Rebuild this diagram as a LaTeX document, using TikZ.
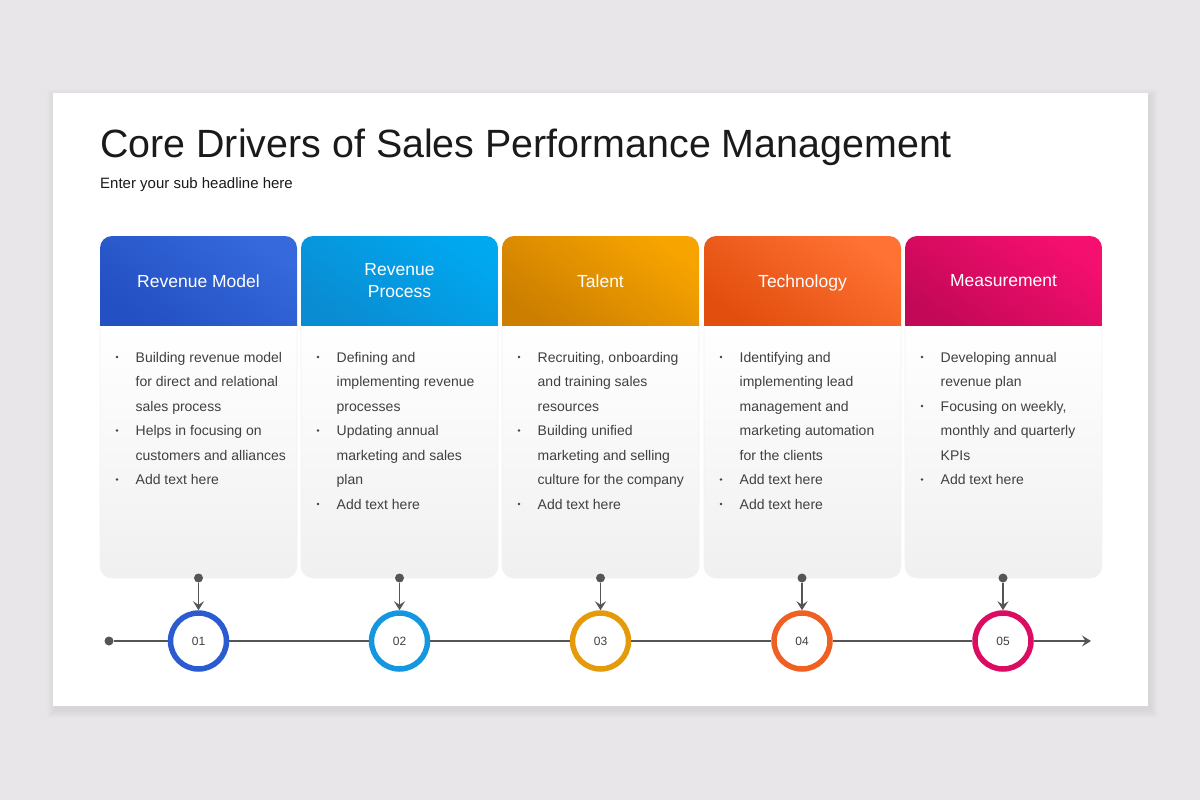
\documentclass[tikz,border=0pt]{standalone}
\usepackage{fontspec}
\setmainfont{Liberation Sans}
\usetikzlibrary{arrows.meta}
\definecolor{bgc}{HTML}{E8E6E8}
\definecolor{titlec}{HTML}{1A1A1A}
\definecolor{bodyc}{HTML}{404040}
\definecolor{linec}{HTML}{555555}
\definecolor{bodyend}{HTML}{F0F0F0}
\definecolor{bL}{HTML}{3569DC}\definecolor{bD}{HTML}{2350C2}\definecolor{bC}{HTML}{2A5BD0}
\definecolor{cL}{HTML}{00A8F0}\definecolor{cD}{HTML}{0A8CD2}\definecolor{cC}{HTML}{1496E0}
\definecolor{oL}{HTML}{F7A400}\definecolor{oD}{HTML}{CC7E00}\definecolor{oC}{HTML}{E59A0A}
\definecolor{rL}{HTML}{FF7233}\definecolor{rD}{HTML}{E24E0E}\definecolor{rC}{HTML}{F06022}
\definecolor{mL}{HTML}{F50F6E}\definecolor{mD}{HTML}{C40858}\definecolor{mC}{HTML}{DC0C62}
\tikzset{
  headtext/.style={text=white, font=\fontsize{17.5}{22}\selectfont, align=center, inner sep=0},
  bodytext/.style={text=bodyc, font=\fontsize{14}{17}\selectfont, anchor=base west, inner sep=0},
  bulletdot/.style={circle, fill=bodyc, inner sep=0, minimum size=2.8pt},
  pindot/.style={circle, fill=linec, inner sep=0, minimum size=9pt},
  numcirc/.style={circle, draw=#1, line width=5.5pt, fill=white, minimum size=56pt, inner sep=0,
     text=bodyc, font=\fontsize{12}{14}\selectfont},
  tline/.style={draw=linec, line width=1.3pt},
  tarrow/.style={draw=linec, line width=1.3pt, -{Stealth[length=9pt,width=11pt,inset=3.5pt]}},
}
% column: #1 x-left, #2 light, #3 dark, #4 name, #5 header text
\newcommand{\mycol}[5]{%
  \begin{scope}
    \clip[rounded corners=12pt] (#1,236) rectangle ++(197,130);
    \shade[top color=#2, bottom color=#3, shading angle=-35] (#1,236) rectangle ++(197,90);
  \end{scope}
  \begin{scope}
    \clip[rounded corners=12pt] (#1,300) rectangle ++(197,278);
    \shade[top color=white, bottom color=bodyend] (#1,326) rectangle ++(197,252);
  \end{scope}
  \draw[black!5, line width=0.6pt, rounded corners=12pt] (#1,326) -- (#1,578) -- ++(197,0) -- ++(0,-252);
  \node[headtext] (h#4) at (#1+98.5,281) {#5};
}
\newcommand{\bl}[4]{% x, line index, name, text
  \node[bulletdot] (b#3) at (#1+17,357+24.5*#2) {};
  \node[bodytext] (t#3) at (#1+35.5,362+24.5*#2) {#4};
}
\newcommand{\cl}[4]{%
  \node[bodytext] (t#3) at (#1+35.5,362+24.5*#2) {#4};
}
\begin{document}
\begin{tikzpicture}[x=1pt,y=-1pt]
\useasboundingbox (0,0) rectangle (1200,800);
\fill[bgc] (0,0) rectangle (1200,800);
% slide shadow
\foreach \i in {1,...,8} {
  \fill[black, opacity=0.009] (53-\i+2,93-\i+4) rectangle (1148+\i+2,706+\i+4);
}
\fill[white] (53,93) rectangle (1148,706);
% title
\node[anchor=base west, inner sep=0, text=titlec, font=\fontsize{39.4}{47}\selectfont] (title) at (100,157) {Core Drivers of Sales Performance Management};
\node[anchor=base west, inner sep=0, text=titlec, font=\fontsize{15}{18}\selectfont] (sub) at (100,188) {Enter your sub headline here};
% columns
\mycol{100}{bL}{bD}{1}{Revenue Model}
\mycol{301}{cL}{cD}{2}{Revenue\\Process}
\mycol{502}{oL}{oD}{3}{Talent}
\mycol{704}{rL}{rD}{4}{\smash{Technology}\vphantom{T}}
\mycol{905}{mL}{mD}{5}{Measurement}
% column 1
\bl{100}{0}{a1}{Building revenue model}
\cl{100}{1}{a2}{for direct and relational}
\cl{100}{2}{a3}{sales process}
\bl{100}{3}{a4}{Helps in focusing on}
\cl{100}{4}{a5}{customers and alliances}
\bl{100}{5}{a6}{Add text here}
% column 2
\bl{301}{0}{b1}{Defining and}
\cl{301}{1}{b2}{implementing revenue}
\cl{301}{2}{b3}{processes}
\bl{301}{3}{b4}{Updating annual}
\cl{301}{4}{b5}{marketing and sales}
\cl{301}{5}{b6}{plan}
\bl{301}{6}{b7}{Add text here}
% column 3
\bl{502}{0}{c1}{Recruiting, onboarding}
\cl{502}{1}{c2}{and training sales}
\cl{502}{2}{c3}{resources}
\bl{502}{3}{c4}{Building unified}
\cl{502}{4}{c5}{marketing and selling}
\cl{502}{5}{c6}{culture for the company}
\bl{502}{6}{c7}{Add text here}
% column 4
\bl{704}{0}{d1}{Identifying and}
\cl{704}{1}{d2}{implementing lead}
\cl{704}{2}{d3}{management and}
\cl{704}{3}{d4}{marketing automation}
\cl{704}{4}{d5}{for the clients}
\bl{704}{5}{d6}{Add text here}
\bl{704}{6}{d7}{Add text here}
% column 5
\bl{905}{0}{e1}{Developing annual}
\cl{905}{1}{e2}{revenue plan}
\bl{905}{2}{e3}{Focusing on weekly,}
\cl{905}{3}{e4}{monthly and quarterly}
\cl{905}{4}{e5}{KPIs}
\bl{905}{5}{e6}{Add text here}
% timeline
\node[numcirc=bC] (n1) at (198.5,641) {01};
\node[numcirc=cC] (n2) at (399.5,641) {02};
\node[numcirc=oC] (n3) at (600.5,641) {03};
\node[numcirc=rC] (n4) at (802,641) {04};
\node[numcirc=mC] (n5) at (1003,641) {05};
\node[pindot] (s) at (109,641) {};
\coordinate (e) at (1091,641);
\draw[tline] (s) -- (n1);
\draw[tline] (n1) -- (n2);
\draw[tline] (n2) -- (n3);
\draw[tline] (n3) -- (n4);
\draw[tline] (n4) -- (n5);
\draw[tarrow] (n5) -- (e);
\foreach \x/\k in {198.5/1,399.5/2,600.5/3,802/4,1003/5} {
  \node[pindot] (p\k) at (\x,578) {};
  \draw[tarrow] (p\k) -- (n\k);
}
\end{tikzpicture}
\end{document}
